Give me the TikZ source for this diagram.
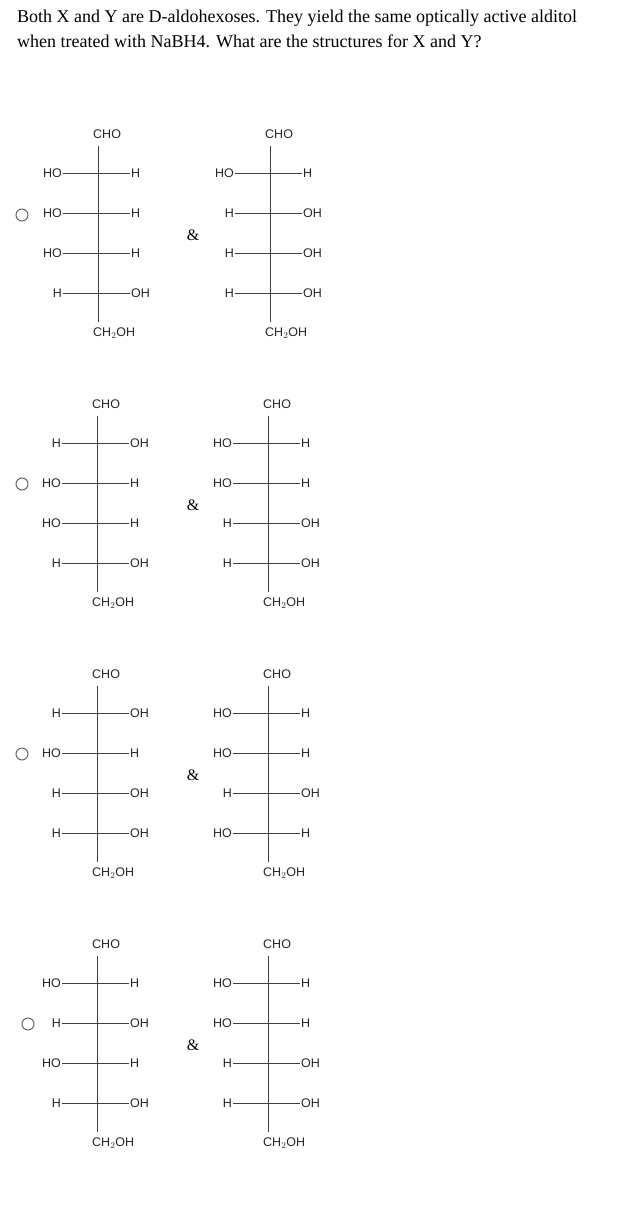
\documentclass[tikz,border=0pt]{standalone}
\usepackage{fontspec}
\setmainfont{Liberation Serif}
\newfontfamily\arial{Liberation Sans}
\begin{document}
\begin{tikzpicture}[x=1pt,y=-1pt,
  lbl/.style={font=\arial\fontsize{12.5}{14}\selectfont,inner sep=1pt,text=black!85},
  bond/.style={draw=black!75,line width=0.8pt},
  amp/.style={font=\fontsize{16}{18}\selectfont},
  radio/.style={draw=black!60,line width=1pt,circle,minimum size=12pt,inner sep=0pt}]
\useasboundingbox (0,0) rectangle (644,1212);
\node[anchor=north west,align=left,font=\fontsize{18}{25}\selectfont,inner sep=0pt] (q) at (17,10)
 {Both X and Y are D-aldohexoses. They yield the same optically active alditol\\when treated with NaBH4. What are the structures for X and Y?};
\newcommand\fis[4]{%
  \node[lbl,anchor=west] (#1t) at (#2-6,#3) {CHO};
  \node[lbl,anchor=west] (#1b) at (#2-6,#3+199) {CH$_2$OH};
  \coordinate (#1vt) at (#2,#3+12);
  \coordinate (#1vb) at (#2,#3+188);
  \draw[bond] (#1vt) -- (#1vb);
  \foreach \l/\r [count=\i] in {#4} {
    \node[lbl,anchor=east] (#1l\i) at (#2-35,#3+39+40*\i-40) {\l};
    \node[lbl,anchor=west] (#1r\i) at (#2+32,#3+39+40*\i-40) {\r};
    \draw[bond] (#1l\i.east) -- (#1r\i.west);
  }%
}
\fis{a}{98}{134}{HO/H,HO/H,HO/H,H/OH}
\fis{b}{270}{134}{HO/H,H/OH,H/OH,H/OH}
\node[radio] (ra) at (22,215) {};
\node[amp] (aa) at (193,235) {\&};

\fis{c}{97}{404}{H/OH,HO/H,HO/H,H/OH}
\fis{d}{268}{404}{HO/H,HO/H,H/OH,H/OH}
\node[radio] (rb) at (22,484) {};
\node[amp] (ab) at (193,505) {\&};

\fis{e}{97}{674}{H/OH,HO/H,H/OH,H/OH}
\fis{f}{268}{674}{HO/H,HO/H,H/OH,HO/H}
\node[radio] (rc) at (22,754) {};
\node[amp] (ac) at (193,775) {\&};

\fis{g}{97}{944}{HO/H,H/OH,HO/H,H/OH}
\fis{h}{268}{944}{HO/H,HO/H,H/OH,H/OH}
\node[radio] (rd) at (28,1024) {};
\node[amp] (ad) at (193,1045) {\&};
\end{tikzpicture}
\end{document}
